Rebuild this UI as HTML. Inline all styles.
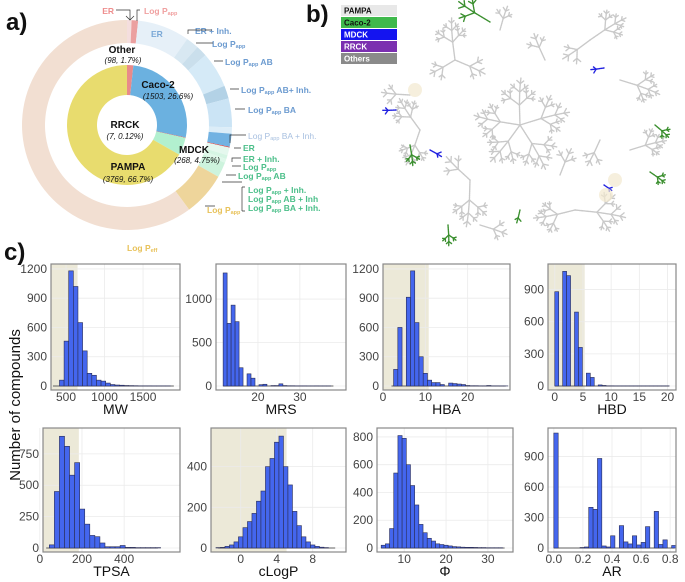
<!DOCTYPE html>
<html><head><meta charset="utf-8">
<style>
body{margin:0;background:#fff;}
#root{position:relative;width:685px;height:582px;overflow:hidden;font-family:"Liberation Sans",sans-serif;}
svg{position:absolute;left:0;top:0;}
</style></head>
<body>
<div id="root">
<svg id="fig" width="685" height="582" viewBox="0 0 685 582">
  <text x="6" y="30" font-size="24" font-weight="bold" fill="#111">a)</text>
  <text x="306" y="22" font-size="24" font-weight="bold" fill="#111">b)</text>
  <text x="4" y="260" font-size="24" font-weight="bold" fill="#111">c)</text>
  <g id="donut"></g>
  <g id="donutLabels" font-size="8.5" font-weight="bold">
    <text x="114" y="14" fill="#ee8e8e" text-anchor="end">ER</text>
    <text x="144" y="14" fill="#f0a0a0">Log P<tspan font-size="5.5" dy="1">app</tspan></text>
    <path d="M116 10 H130 V20 M126 16 L130 20 L134 16 M140 10 H137 V21" stroke="#333" stroke-width="0.7" fill="none"/>
    <text x="151" y="37" fill="#7aa8d6">ER</text>
    <text x="195" y="34" fill="#6c9bd0">ER + Inh.</text>
    <text x="212" y="47" fill="#6c9bd0">Log P<tspan font-size="5.5" dy="1">app</tspan></text>
    <text x="225" y="65" fill="#6c9bd0">Log P<tspan font-size="5.5" dy="1">app</tspan><tspan dy="-1"> AB</tspan></text>
    <text x="241" y="93" fill="#6c9bd0">Log P<tspan font-size="5.5" dy="1">app</tspan><tspan dy="-1"> AB+ Inh.</tspan></text>
    <text x="248" y="113" fill="#6c9bd0">Log P<tspan font-size="5.5" dy="1">app</tspan><tspan dy="-1"> BA</tspan></text>
    <text x="248" y="139" fill="#a8c0e0" font-weight="normal">Log P<tspan font-size="5.5" dy="1">app</tspan><tspan dy="-1"> BA + Inh.</tspan></text>
    <text x="243" y="151" fill="#4cbf8a">ER</text>
    <text x="243" y="162" fill="#4cbf8a">ER + Inh.</text>
    <text x="243" y="170" fill="#4cbf8a">Log P<tspan font-size="5.5" dy="1">app</tspan></text>
    <text x="238" y="179" fill="#4cbf8a">Log P<tspan font-size="5.5" dy="1">app</tspan><tspan dy="-1"> AB</tspan></text>
    <text x="248" y="193" fill="#4cbf8a">Log P<tspan font-size="5.5" dy="1">app</tspan><tspan dy="-1"> + Inh.</tspan></text>
    <text x="248" y="202" fill="#4cbf8a">Log P<tspan font-size="5.5" dy="1">app</tspan><tspan dy="-1"> AB + Inh</tspan></text>
    <text x="248" y="211" fill="#4cbf8a">Log P<tspan font-size="5.5" dy="1">app</tspan><tspan dy="-1"> BA + Inh.</tspan></text>
    <text x="207" y="213" fill="#e8c25a">Log P<tspan font-size="5.5" dy="1">app</tspan></text>
    <text x="127" y="251" fill="#e8c25a">Log P<tspan font-size="5.5" dy="1">eff</tspan></text>
    <path d="M212 30 H188 V34 M213 43 H196 M223 61 H214 M239 89 H230 M245 109 H235 M246 135 H230 V143 M241 148 H234 M241 158 H232 V162 M241 166 H232 M236 175 H226 M242 187 V211 M245 187 H242 M245 211 H242 M242 182 H222 M205 206 H215" stroke="#333" stroke-width="0.7" fill="none"/>
    <text x="122" y="53" fill="#111" font-size="10" text-anchor="middle">Other</text>
    <text x="123" y="63" fill="#111" font-size="8" font-weight="normal" font-style="italic" text-anchor="middle">(98, 1.7%)</text>
    <text x="158" y="88" fill="#111" font-size="10" text-anchor="middle">Caco-2</text>
    <text x="168" y="99" fill="#111" font-size="8" font-weight="normal" font-style="italic" text-anchor="middle">(1503, 26.6%)</text>
    <text x="125" y="128" fill="#111" font-size="10" text-anchor="middle">RRCK</text>
    <text x="125" y="139" fill="#111" font-size="8" font-weight="normal" font-style="italic" text-anchor="middle">(7, 0.12%)</text>
    <text x="194" y="153" fill="#111" font-size="10" text-anchor="middle">MDCK</text>
    <text x="197" y="163" fill="#111" font-size="8" font-weight="normal" font-style="italic" text-anchor="middle">(268, 4.75%)</text>
    <text x="128" y="170" fill="#111" font-size="10" text-anchor="middle">PAMPA</text>
    <text x="128" y="182" fill="#111" font-size="8" font-weight="normal" font-style="italic" text-anchor="middle">(3769, 66.7%)</text>
  </g>
  <g id="network"></g>
  <g font-size="8" font-weight="bold">
    <rect x="341" y="5" width="56" height="11" fill="#e8e8e8"/><text x="344" y="13.5" fill="#111">PAMPA</text>
    <rect x="341" y="17" width="56" height="11" fill="#3fb94c"/><text x="344" y="25.5" fill="#111">Caco-2</text>
    <rect x="341" y="29" width="56" height="11" fill="#1414f0"/><text x="344" y="37.5" fill="#fff">MDCK</text>
    <rect x="341" y="41" width="56" height="11" fill="#7b2fb0"/><text x="344" y="49.5" fill="#fff">RRCK</text>
    <rect x="341" y="53" width="56" height="11" fill="#8a8a8a"/><text x="344" y="61.5" fill="#fff">Others</text>
  </g>
  <g id="hists"></g>
  <text transform="translate(20,405) rotate(-90)" text-anchor="middle" font-size="15" fill="#111">Number of compounds</text>
</svg>
</div>
<script>
// ---- donut data ----
const innerLabels = ["Other","Caco-2","RRCK","MDCK","PAMPA"];
const innerValues = [1.7, 26.6, 0.12, 4.75, 66.7];
const innerColors = ["#e88a8a","#6bb1e0","#e03c3c","#b2f0cf","#e8dc6e"];
const outerLabels = ["Other ER","Other LogPapp","Caco ER","Caco ER+Inh","Caco LogPapp","Caco AB","Caco AB+Inh","Caco BA","Caco BA light","Caco BA+Inh","RRCK","MDCK ER","MDCK ER+Inh","MDCK LogPapp","MDCK AB","PAMPA LogPapp","PAMPA LogPeff"];
const outerValues = [0.7, 1.0, 8.0, 2.0, 1.7, 5.5, 2.0, 4.4, 1.0, 2.0, 0.12, 1.2, 0.6, 0.6, 2.35, 6.7, 60.0];
const outerColors = ["#f4dede","#eba0a0","#e6f0f8","#d8e8f2","#cadfec","#d5eaf7","#b3d2e6","#cbe4f5","#dcedf8","#72b2e2","#e03c3c","#e5f8ee","#d6f5e4","#dff8ea","#cdf3dd","#eed59b","#f2dfd2"];
const NS="http://www.w3.org/2000/svg";
function mk(tag, attrs, parent){const e=document.createElementNS(NS,tag);for(const k in attrs)e.setAttribute(k,attrs[k]);parent.appendChild(e);return e;}
const cx=127, cy=125;
function arc(r0,r1,a0,a1){
  const p=(r,a)=>[cx+r*Math.sin(a),cy-r*Math.cos(a)];
  const lg=(a1-a0)>Math.PI?1:0;
  const [x0,y0]=p(r1,a0),[x1,y1]=p(r1,a1),[x2,y2]=p(r0,a1),[x3,y3]=p(r0,a0);
  return `M${x0} ${y0}A${r1} ${r1} 0 ${lg} 1 ${x1} ${y1}L${x2} ${y2}A${r0} ${r0} 0 ${lg} 0 ${x3} ${y3}Z`;
}
const dg=document.getElementById('donut');
function ring(vals,cols,names,r0,r1){
  const tot=vals.reduce((a,b)=>a+b,0);let acc=0;
  vals.forEach((v,i)=>{const a0=acc/tot*2*Math.PI;acc+=v;const a1=acc/tot*2*Math.PI;
    const p=mk('path',{d:arc(r0,r1,a0,a1),fill:cols[i]},dg);
    
    
  });
}
ring(outerValues,outerColors,outerLabels,82,105);
ring(innerValues,innerColors,innerLabels,30,60);

// ---- network (decorative tree) ----
const ng=document.getElementById('network');
function branch(x,y,ang,len,depth,col){
  const x2=x+len*Math.cos(ang),y2=y+len*Math.sin(ang);
  const l=mk('line',{x1:x,y1:y,x2:x2,y2:y2,stroke:col,'stroke-width':1.4,'stroke-dasharray':'1.3 0.8','stroke-linecap':'round'},ng);
  
  
  if(depth>0){branch(x2,y2,ang-0.9,len*0.55,depth-1,col);branch(x2,y2,ang+0.85,len*0.5,depth-1,col);branch(x2,y2,ang+0.05,len*0.65,depth-1,col);}
}
const G="#c9c9c9";
const roots=[
[520,125,-1.6,20,3,G],[520,125,-0.3,22,3,G],[520,125,1.0,22,3,G],[520,125,2.2,20,3,G],[520,125,3.3,20,3,G],
[455,60,-1.7,18,3,G],[455,60,0.4,16,2,G],[455,60,2.6,14,2,G],
[590,40,-0.6,18,3,G],[590,40,2.5,16,2,G],[620,80,0.3,18,3,G],
[630,150,-0.3,16,3,G],[600,140,2.0,14,2,G],
[575,210,0.1,22,3,G],[575,210,2.9,18,3,G],[560,175,-1.2,14,2,G],
[470,180,1.6,20,3,G],[470,180,-2.4,16,2,G],[480,225,0.3,14,2,G],
[420,130,-2.2,16,3,G],[420,130,1.9,16,3,G],[410,95,3.2,14,2,G],
[545,60,-2.0,14,2,G],[500,30,-1.3,12,2,G],
[490,22,-2.6,18,2,"#3a8f2e"],[410,145,1.4,10,2,"#3a8f2e"],[448,225,1.5,10,2,"#3a8f2e"],[655,125,0.7,9,2,"#3a8f2e"],[650,172,0.6,9,2,"#3a8f2e"],[520,210,1.8,8,1,"#3a8f2e"],
[396,110,3.1,8,1,"#2020e0"],[430,150,0.5,8,1,"#2020e0"],[604,68,3.0,8,1,"#2020e0"],[604,185,0.6,6,1,"#2020e0"]];
roots.forEach(r=>branch(...r));
[[415,90],[615,180],[606,195]].forEach(c=>{const e=mk('circle',{cx:c[0],cy:c[1],r:7,fill:'#f2e8cf',opacity:0.7},ng);});

// ---- histogram data ----
const mwCounts=[60,460,1180,1020,650,360,130,110,60,50,30,15,10,8,5,4,3,2,2,2,1,1,1,1];
const mwXTicks=[500,1000,1500]; const mwYTicks=[0,300,600,900,1200];
const mrsCounts=[1300,720,930,740,210,0,140,90,0,15,20,0,5,5,25,5,3,3,2,2,2,1,1,2,1,1,1];
const mrsXTicks=[20,30]; const mrsYTicks=[0,500,1000];
const hbaCounts=[170,600,0,910,1180,650,300,130,60,35,35,15,0,30,25,20,15,5,3,3,2,2,5,2,2,1,1];
const hbaXTicks=[0,10,20]; const hbaYTicks=[0,300,600,900,1200];
const hbdCounts=[880,0,1070,1030,0,690,360,0,120,80,0,10,5,2,2,1,1,1,1,1,1,1,1,1,1,1,1,1,1];
const hbdXTicks=[0,5,10,15,20]; const hbdYTicks=[0,300,600,900];
const tpsaCounts=[25,450,890,810,580,680,310,190,100,90,40,10,10,10,20,5,5,3,3,3,3,3];
const tpsaXTicks=[0,200,400]; const tpsaYTicks=[0,250,500,750];
const clogpCounts=[2,3,8,15,30,55,100,130,170,230,280,400,440,520,550,400,310,180,110,55,30,15,8,4,2];
const clogpXTicks=[0,4,8]; const clogpYTicks=[0,200,400];
const phiCounts=[20,30,140,540,810,790,600,450,310,170,110,70,50,30,25,20,15,10,8,6,5,5,4,3,3,2,2,2,2];
const phiXTicks=[10,20,30]; const phiYTicks=[0,200,400,600,800];
const arCounts=[1130,0,0,0,0,0,5,10,400,380,880,20,10,120,0,220,60,40,120,30,55,210,0,360,35,80,0,25];
const arXTicks=[0.0,0.2,0.4,0.6,0.8]; const arYTicks=[0,300,600,900];

const panels=[
 {name:"MW",x:51,y:264,w:129,h:126,dom:[305,1980],ymax:1230,b0:415,bw:60,c:mwCounts,xt:mwXTicks,yt:mwYTicks,shade:[305,650],base:[330,1900]},
 {name:"MRS",x:216,y:264,w:130,h:126,dom:[10,41],ymax:1380,b0:11.7,bw:0.95,c:mrsCounts,xt:mrsXTicks,yt:mrsYTicks,shade:null,base:[11.7,38]},
 {name:"HBA",x:383,y:264,w:127,h:126,dom:[0,30],ymax:1230,b0:2.5,bw:1,c:hbaCounts,xt:hbaXTicks,yt:hbaYTicks,shade:[0,10.8],base:[2,29]},
 {name:"HBD",x:548,y:264,w:128,h:126,dom:[-1.2,21.5],ymax:1120,b0:0,bw:0.7,c:hbdCounts,xt:hbdXTicks,yt:hbdYTicks,shade:[-1.2,5.3],base:[0,20.3]},
 {name:"TPSA",x:43,y:428,w:137,h:124,dom:[15,665],ymax:940,b0:45,bw:24,c:tpsaCounts,xt:tpsaXTicks,yt:tpsaYTicks,shade:[15,185],base:[30,560]},
 {name:"cLogP",x:211,y:428,w:135,h:124,dom:[-3.3,11.7],ymax:580,b0:-2.75,bw:0.5,c:clogpCounts,xt:clogpXTicks,yt:clogpYTicks,shade:[-3.3,5.1],base:[-2.5,10.5]},
 {name:"Φ",x:377,y:428,w:136,h:124,dom:[3.5,36],ymax:850,b0:4.5,bw:1,c:phiCounts,xt:phiXTicks,yt:phiYTicks,shade:null,base:[4.5,34]},
 {name:"AR",x:548,y:428,w:128,h:124,dom:[-0.04,0.84],ymax:1160,b0:0,bw:0.03,c:arCounts,xt:arXTicks,yt:arYTicks,shade:null,base:[0,0.83]}
];
const hg=document.getElementById('hists');
panels.forEach(P=>{
  const slug=P.name==="Φ"?"phi":P.name.toLowerCase();
  const g=mk('g',{},hg);
  
  
  const bottom=P.y+P.h-4;
  const X=v=>P.x+(v-P.dom[0])/(P.dom[1]-P.dom[0])*P.w;
  const Y=v=>bottom-v/P.ymax*(bottom-P.y-2);
  mk('rect',{x:P.x,y:P.y,width:P.w,height:P.h,fill:'#fff'},g);
  if(P.shade){const s=mk('rect',{x:X(P.shade[0]),y:P.y,width:X(P.shade[1])-X(P.shade[0]),height:P.h,fill:'#ece9d8'},g);}
  P.xt.forEach(t=>{mk('line',{x1:X(t),x2:X(t),y1:P.y,y2:P.y+P.h,stroke:'#ebebeb','stroke-width':0.8},g);});
  P.yt.forEach(t=>{mk('line',{x1:P.x,x2:P.x+P.w,y1:Y(t),y2:Y(t),stroke:'#ebebeb','stroke-width':0.8},g);});
  mk('line',{x1:X(P.base[0]),x2:X(P.base[1]),y1:bottom,y2:bottom,stroke:'#333','stroke-width':0.8},g);
  P.c.forEach((v,i)=>{ if(v<=0) return;
    const x0=X(P.b0+i*P.bw),x1=X(P.b0+(i+1)*P.bw);
    const r=mk('rect',{x:x0,y:Y(v),width:x1-x0,height:bottom-Y(v),fill:'#4466ee',stroke:'#2a2d55','stroke-width':0.6},g);
    
    
  });
  mk('rect',{x:P.x,y:P.y,width:P.w,height:P.h,fill:'none',stroke:'#888','stroke-width':1.2},g);
  P.yt.forEach(t=>{const tx=mk('text',{x:P.x-4,y:Y(t)+4,'text-anchor':'end','font-size':12,fill:'#444'},g);tx.textContent=t;});
  P.xt.forEach(t=>{const tx=mk('text',{x:X(t),y:P.y+P.h+11,'text-anchor':'middle','font-size':12,fill:'#444'},g);tx.textContent=(P.name==="AR")?t.toFixed(1):t;});
  const tt=mk('text',{x:P.x+P.w/2,y:P.y+P.h+24,'text-anchor':'middle','font-size':14,fill:'#111'},g);
  tt.textContent=P.name;
  
  
});
</script>
</body></html>
